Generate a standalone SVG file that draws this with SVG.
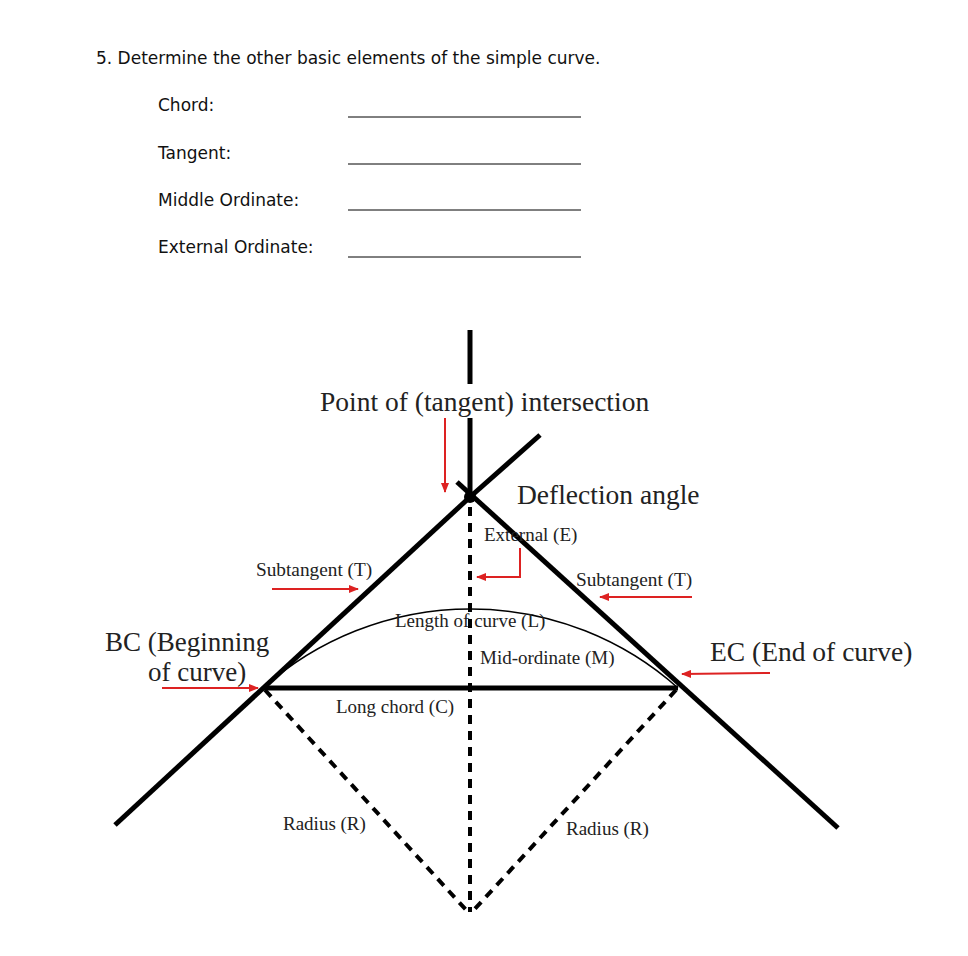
<svg xmlns="http://www.w3.org/2000/svg" width="968" height="956" viewBox="0 0 968 956">
<defs>
<style>
.q{font-family:"DejaVu Sans",sans-serif;font-size:17px;fill:#111}
.s{font-family:"Liberation Serif",serif;fill:#222}
.b{stroke:#000;stroke-width:5;fill:none}
.d{stroke:#000;stroke-width:4;stroke-dasharray:9,7;fill:none}
.r{stroke:#d22;stroke-width:2;fill:none}
.bl{stroke:#000;stroke-width:1}
</style>
<marker id="ra" markerWidth="10" markerHeight="8" refX="9" refY="4" orient="auto" markerUnits="userSpaceOnUse"><path d="M0,0 L10,4 L0,8 Z" fill="#d22"/></marker>
</defs>
<rect width="968" height="956" fill="#fff"/>
<g id="question">
<text class="q" x="96" y="64">5.  Determine the other basic elements of the simple curve.</text>
<text class="q" x="158" y="111">Chord:</text>
<text class="q" x="158" y="159">Tangent:</text>
<text class="q" x="158" y="206">Middle Ordinate:</text>
<text class="q" x="158" y="253">External Ordinate:</text>
<line class="bl" x1="348" y1="117" x2="581" y2="117"/>
<line class="bl" x1="348" y1="164" x2="581" y2="164"/>
<line class="bl" x1="348" y1="210" x2="581" y2="210"/>
<line class="bl" x1="348" y1="257" x2="581" y2="257"/>
</g>
<g id="connectors">
<line class="b" x1="470" y1="330" x2="470" y2="384"/>
<line class="b" x1="470" y1="418" x2="470" y2="497"/>
<line class="b" x1="115" y1="825" x2="470" y2="497"/>
<line class="b" x1="470" y1="497" x2="540" y2="435"/>
<line class="b" x1="457" y1="482" x2="838" y2="828"/>
<line class="d" x1="470" y1="507" x2="470" y2="912"/>
<line class="b" x1="263" y1="688" x2="678" y2="688"/>
<line class="d" x1="265" y1="690" x2="468" y2="912" stroke-width="3.5"/>
<line class="d" x1="676" y1="690" x2="472" y2="912" stroke-width="3.5"/>
<path d="M263,688 A312,312 0 0 1 678,688" stroke="#000" stroke-width="1.5" fill="none"/>
<circle cx="470" cy="497" r="6" fill="#000"/>
<line class="r" x1="445" y1="418" x2="445" y2="492" marker-end="url(#ra)"/>
<polyline class="r" points="520,548 520,577 477,577" marker-end="url(#ra)"/>
<line class="r" x1="272" y1="589" x2="358" y2="589" marker-end="url(#ra)"/>
<line class="r" x1="692" y1="597" x2="600" y2="597" marker-end="url(#ra)"/>
<line class="r" x1="162" y1="688" x2="258" y2="688" marker-end="url(#ra)"/>
<line class="r" x1="770" y1="673" x2="682" y2="674" marker-end="url(#ra)"/>
</g>
<g id="labels">
<text class="s" x="320" y="411" font-size="27.5">Point of (tangent) intersection</text>
<text class="s" x="517" y="504" font-size="27.5">Deflection angle</text>
<text class="s" x="484" y="541" font-size="19">External (E)</text>
<text class="s" x="256" y="576" font-size="19.3">Subtangent (T)</text>
<text class="s" x="576" y="586" font-size="19.3">Subtangent (T)</text>
<text class="s" x="395" y="627" font-size="19">Length of curve (L)</text>
<text class="s" x="480" y="664" font-size="19">Mid-ordinate (M)</text>
<text class="s" x="105" y="651" font-size="27">BC (Beginning</text>
<text class="s" x="148" y="681" font-size="27">of curve)</text>
<text class="s" x="710" y="661" font-size="27.5">EC (End of curve)</text>
<text class="s" x="336" y="713" font-size="19">Long chord (C)</text>
<text class="s" x="283" y="830" font-size="19">Radius (R)</text>
<text class="s" x="566" y="835" font-size="19">Radius (R)</text>
</g>
</svg>
